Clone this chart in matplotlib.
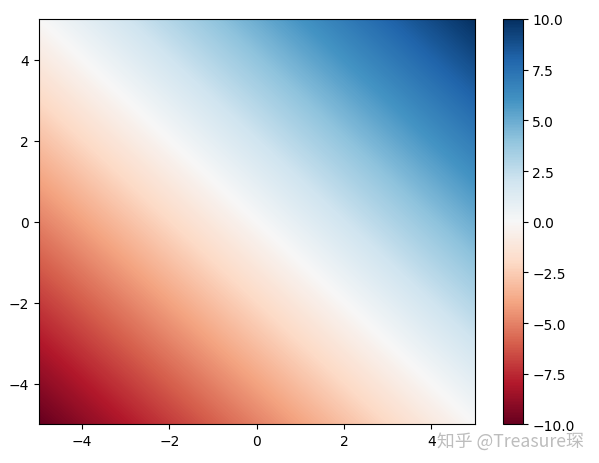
import matplotlib.pyplot as plt
import numpy as np

# grid limits and resolution for z = x + y
x_limits = [-5, 5]
y_limits = [-5, 5]
n_points = 400
color_limits = [-10, 10]
cbar_ticks = [-10.0, -7.5, -5.0, -2.5, 0.0, 2.5, 5.0, 7.5, 10.0]
axis_ticks = [-4, -2, 0, 2, 4]
watermark = "知乎 @Treasure琛"

x = np.linspace(x_limits[0], x_limits[1], n_points)
y = np.linspace(y_limits[0], y_limits[1], n_points)
X, Y = np.meshgrid(x, y)
Z = X + Y

fig = plt.figure(figsize=(5.99, 4.64), dpi=100)
ax = fig.add_axes([0.0643, 0.083, 0.7287, 0.874])
cax = fig.add_axes([0.839, 0.083, 0.0334, 0.874])

im = ax.imshow(
    Z,
    cmap="RdBu",
    origin="lower",
    extent=[x_limits[0], x_limits[1], y_limits[0], y_limits[1]],
    vmin=color_limits[0],
    vmax=color_limits[1],
    aspect="auto",
)
ax.set_xticks(axis_ticks)
ax.set_yticks(axis_ticks)

cb = fig.colorbar(im, cax=cax, ticks=cbar_ticks)
cb.ax.set_yticklabels([f"{t:.1f}".replace("-", "\u2212") for t in cbar_ticks])

fig.text(0.975, 0.049, watermark, ha="right", va="center", fontsize=12.8,
         color="#bdbdbd",
         family=["Noto Sans CJK SC", "DejaVu Sans"])

fig.savefig("out.png", dpi=100)
